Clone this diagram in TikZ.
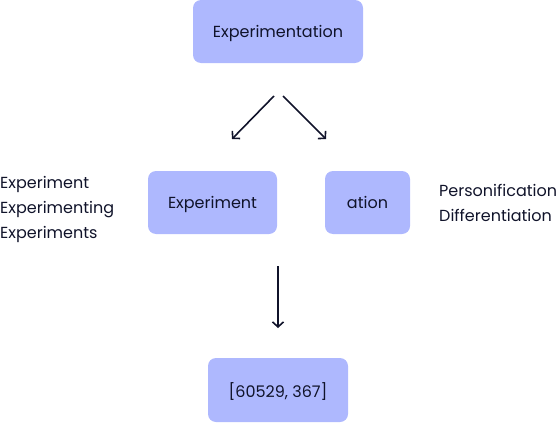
\documentclass[tikz,border=0pt]{standalone}
\usepackage{fontspec}
\setmainfont{Poppins}
\usetikzlibrary{arrows.meta}
\definecolor{boxfill}{HTML}{AEB8FE}
\definecolor{inkdark}{HTML}{10132A}
\tikzset{
  wordbox/.style={fill=boxfill, rounded corners=8pt, inner sep=0pt, text=inkdark, text depth=0pt},
  wordlist/.style={align=left, anchor=west, inner sep=0pt, text=inkdark},
  splitarrow/.style={draw=inkdark, line width=1.6pt, -{Straight Barb[length=5pt,width=11pt]}}
}
\begin{document}
\begin{tikzpicture}[x=1pt, y=-1pt, font=\fontsize{16}{25}\selectfont]
			%%%%% START %%%%%
			\useasboundingbox (0, 0) rectangle (557, 423);
			
			\node[wordbox, minimum width=170pt, minimum height=63pt] (whole) at (278, 31.5) {Experimentation};
			
			\coordinate (forkl) at (274, 96);
			\coordinate (forkr) at (283, 96);
			\coordinate (tipl) at (232, 139);
			\coordinate (tipr) at (326, 139);
			\draw[splitarrow] (forkl) -- (tipl);
			\draw[splitarrow] (forkr) -- (tipr);
			
			\node[wordbox, minimum width=129pt, minimum height=63pt] (stem) at (212.5, 202.5) {Experiment};
			\node[wordbox, minimum width=85pt, minimum height=63pt] (suffix) at (367.5, 202.5) {ation};
			
			\node[wordlist] (stemwords) at (0, 209) {Experiment\\Experimenting\\Experiments};
			\node[wordlist] (suffixwords) at (439, 203) {Personification\\Differentiation};
			
			\coordinate (downtop) at (278, 266);
			\coordinate (downtip) at (278, 328);
			\draw[splitarrow] (downtop) -- (downtip);
			
			\node[wordbox, minimum width=140pt, minimum height=64pt] (ids) at (278, 390) {[60529, 367]};
			
			%%%%% END %%%%%
\end{tikzpicture}
\end{document}
